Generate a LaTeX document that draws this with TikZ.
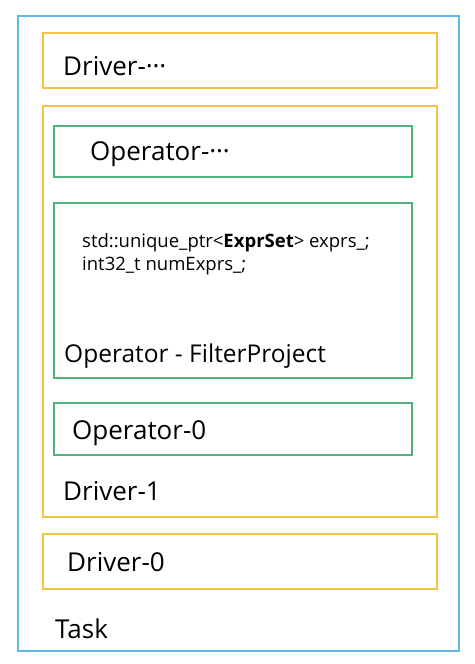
\documentclass[tikz,border=0pt]{standalone}
\usepackage{fontspec}
\setmainfont{Open Sans}
\newcommand{\mdots}{\raisebox{0.28em}{…}}
\begin{document}
\begin{tikzpicture}[x=1pt,y=-1pt,
  taskbox/.style={draw=taskblue,line width=1.6pt},
  drvbox/.style={draw=drvyellow,line width=1.6pt},
  opbox/.style={draw=opgreen,line width=1.6pt},
  big/.style={anchor=base west,inner sep=0pt,font=\fontsize{26}{30}\selectfont},
  mid/.style={anchor=base west,inner sep=0pt,font=\fontsize{24.5}{28}\selectfont},
  code/.style={anchor=base west,inner sep=0pt,font=\fontsize{18.5}{23}\selectfont,align=left}]
\definecolor{taskblue}{HTML}{5DB9E9}
\definecolor{drvyellow}{HTML}{F6C444}
\definecolor{opgreen}{HTML}{4DB37B}
\useasboundingbox (0,0) rectangle (474,664);
% Task
\draw[taskbox] (18,16) rectangle (459,651);
\node[big] (task) at (55,638) {Task};
% Driver-...
\draw[drvbox] (43,33) rectangle (437,88);
\node[big] (drvn) at (63,75) {Driver-\mdots};
% Driver-1
\draw[drvbox] (43,106) rectangle (437,517);
\node[big] (drv1) at (63,500) {Driver-1};
% Operator-...
\draw[opbox] (54,126) rectangle (412,177);
\node[big] (opn) at (90,160) {Operator-\mdots};
% FilterProject
\draw[opbox] (54,203) rectangle (412,378);
\node[code] (c1) at (82,247) {std::unique\_ptr<\textbf{ExprSet}> exprs\_;};
\node[code] (c2) at (82,270) {int32\_t numExprs\_;};
\node[mid] (fp) at (64,362) {Operator - FilterProject};
% Operator-0
\draw[opbox] (54,403) rectangle (412,455);
\node[big] (op0) at (72,439) {Operator-0};
% Driver-0
\draw[drvbox] (43,534) rectangle (437,589);
\node[big] (drv0) at (67,571) {Driver-0};
\end{tikzpicture}
\end{document}
